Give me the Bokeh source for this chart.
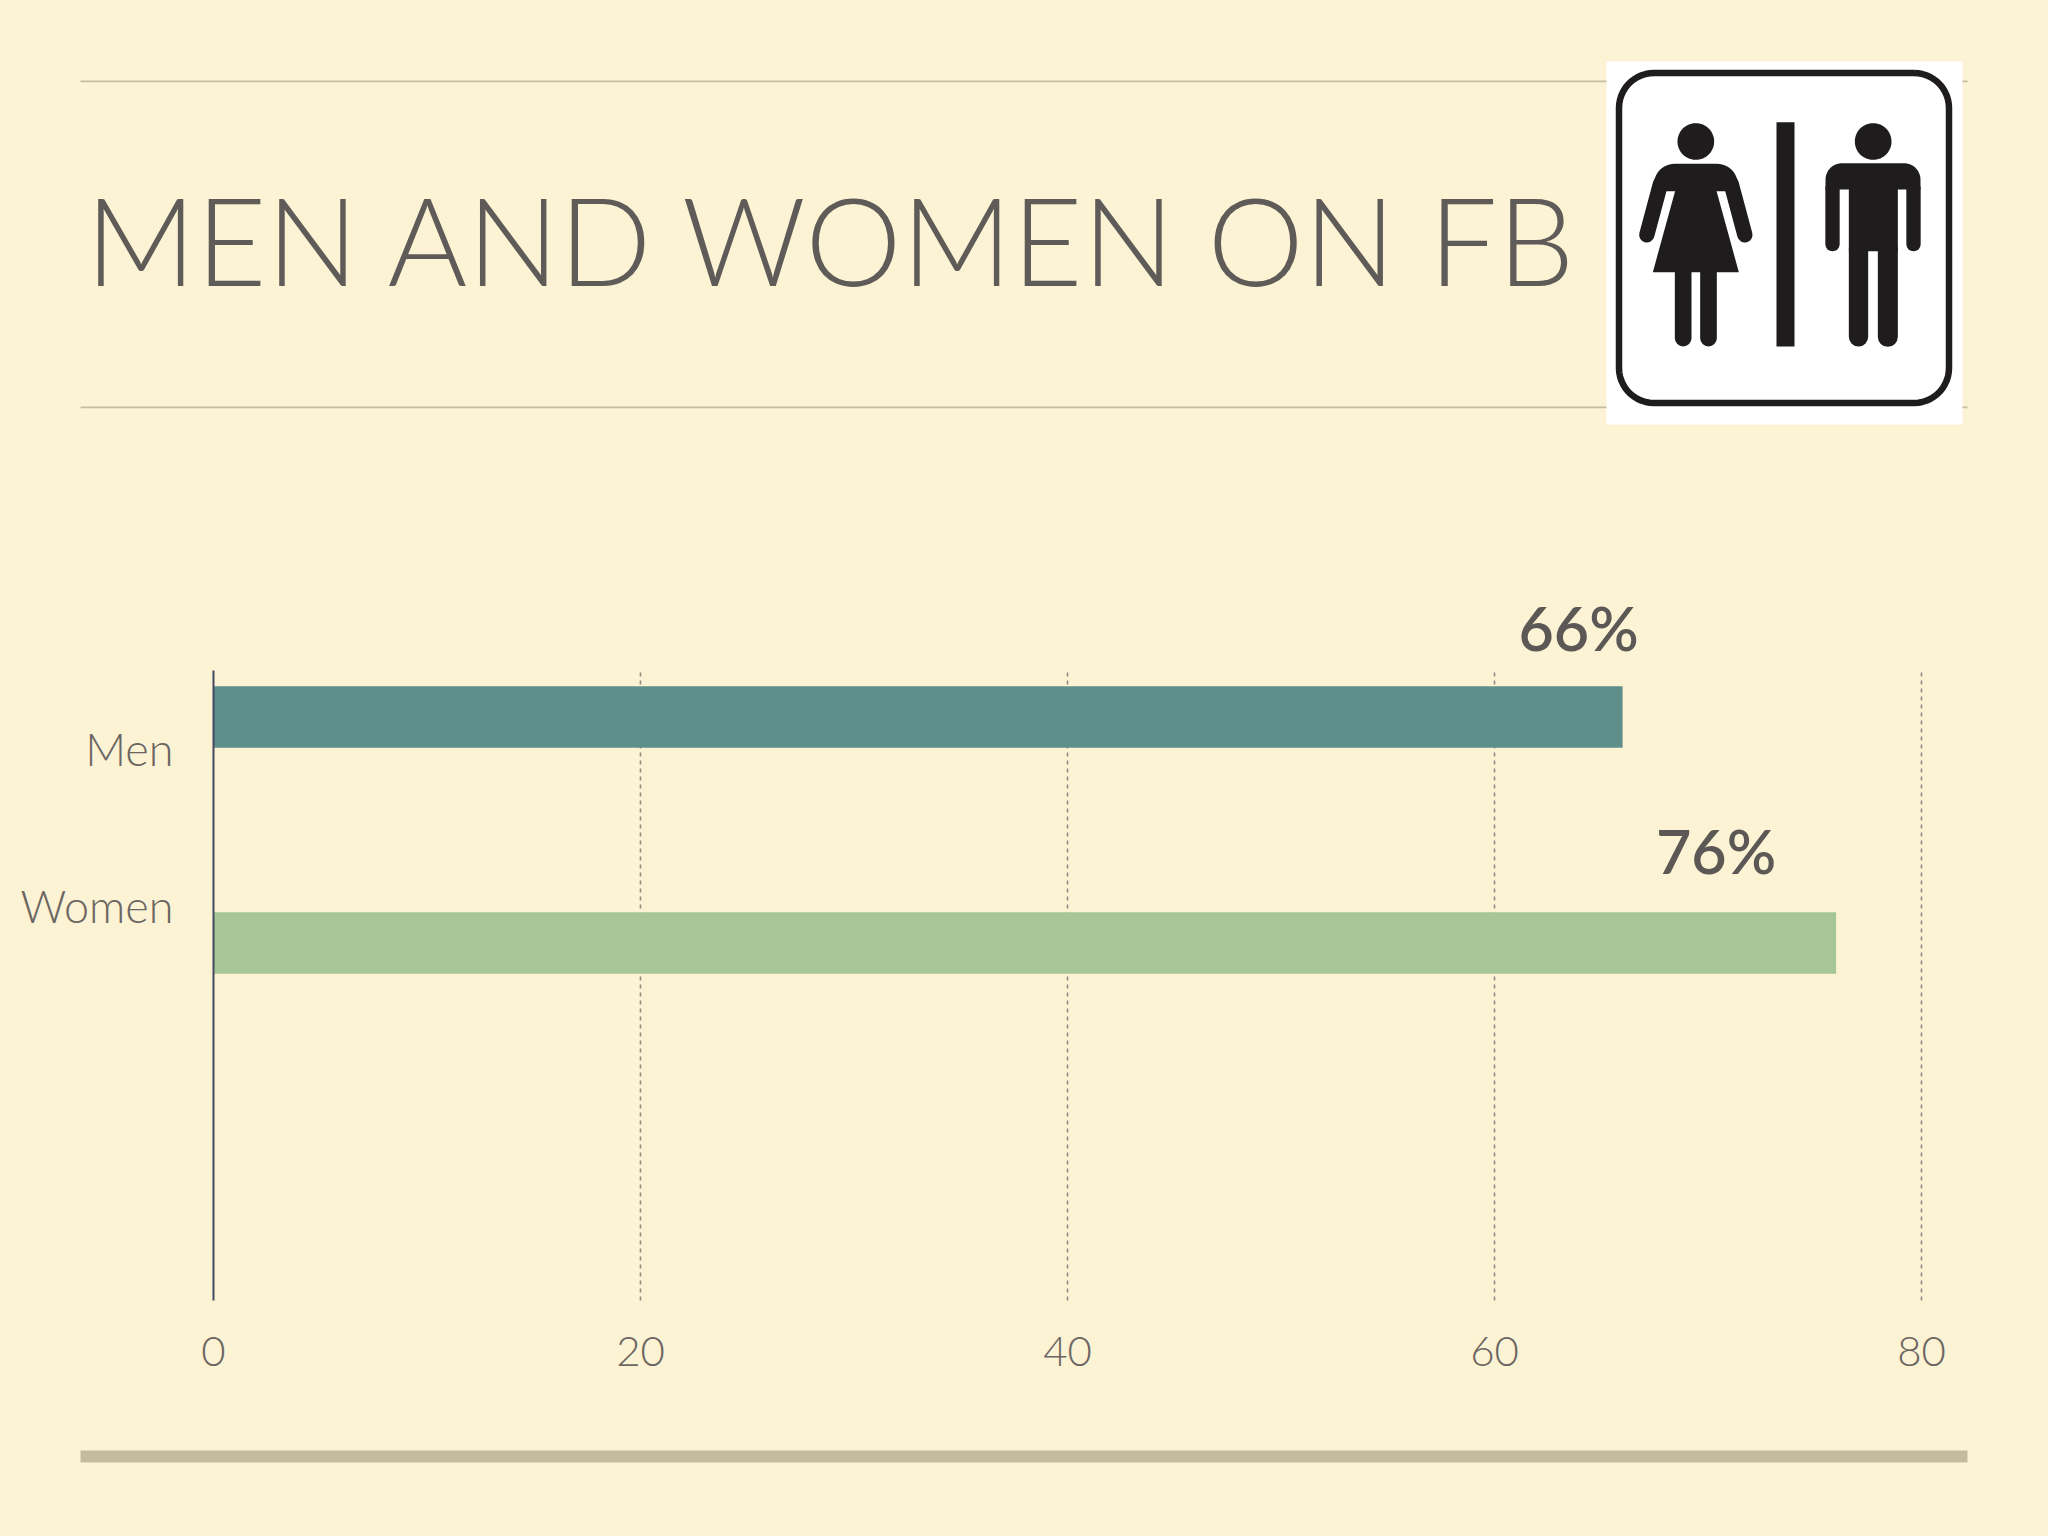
from math import pi
import numpy as np
from bokeh.core.properties import value
from bokeh.embed import file_html
from bokeh.models import ColumnDataSource, FixedTicker, GlobalInlineStyleSheet, Range1d
from bokeh.plotting import figure
from bokeh.resources import INLINE

# ---- chart data ----
categories = ["Men", "Women"]
values = [66, 76]
value_labels = ["66%", "76%"]
x_ticks = [0, 20, 40, 60, 80]
title_text = "MEN AND WOMEN ON FB"

# ---- style / layout ----
BG = "#fcf2d4"
bar_colors = ["#5f8f8b", "#a6c698"]
label_dx = [-44, -120]
label_dy = [-89.5, -92.5]
cat_tick_pos = [0.143, 0.837]

W, H = 2032, 1520
OX, OY = 0, 0
X0, XU = 213.0, 21.35
Y0, YU = 716.5, 226.0
def ypx(py):
    return (py - Y0) / YU

p = figure(
    width=W, height=H, output_backend="svg", toolbar_location=None,
    x_range=Range1d((OX - X0) / XU, (OX + W - X0) / XU),
    y_range=Range1d(ypx(OY + H), ypx(OY)),
    min_border=0, background_fill_color=BG, border_fill_color=BG, outline_line_color=None,
)
p.stylesheets = [GlobalInlineStyleSheet(css=f"html,body{{background:{BG};}}")]
p.extra_x_ranges["px"] = Range1d(OX, OX + W)
p.extra_y_ranges["py"] = Range1d(OY + H, OY)
p.grid.visible = False

axis_top, axis_bottom = ypx(670), ypx(1300)

# grid
gl = p.segment(x0=x_ticks[1:], x1=x_ticks[1:], y0=ypx(672), y1=axis_bottom,
               line_color="#928c84", line_width=1.6)
gl.glyph.line_dash = "4 4"

# bars
src = ColumnDataSource(dict(y=list(range(len(categories))), v=values, c=bar_colors,
                            t=value_labels, dx=label_dx, dy=label_dy))
p.hbar(y="y", left=0, right="v", height=61.5 / YU, fill_color="c", line_color=None, source=src)
p.text(x="v", y="y", text="t", x_offset="dx", y_offset="dy", source=src,
       text_font=value("Lato Semibold"), text_font_size="61px",
       text_color="#5c5855", text_align="center", text_baseline="alphabetic")

# axes
xa = p.xaxis[0]
xa.fixed_location = axis_bottom
xa.ticker = FixedTicker(ticks=x_ticks)
xa.axis_line_color = None
xa.major_tick_line_color = None
xa.minor_tick_line_color = None
xa.major_label_standoff = 30
xa.major_label_text_font = "Lato Light"
xa.major_label_text_font_size = "42px"
xa.major_label_text_color = "#6b6662"

ya = p.yaxis[0]
ya.fixed_location = 0
ya.bounds = (axis_top, axis_bottom)
ya.ticker = FixedTicker(ticks=cat_tick_pos)
ya.major_label_overrides = dict(zip(cat_tick_pos, categories))
ya.axis_line_color = "#434861"
ya.axis_line_width = 2
ya.major_tick_line_color = None
ya.minor_tick_line_color = None
ya.major_label_standoff = 34
ya.major_label_text_font = "Lato Light"
ya.major_label_text_font_size = "45px"
ya.major_label_text_color = "#6b6662"

# ---- slide furniture, in page pixels ----
PX = dict(x_range_name="px", y_range_name="py")
p.quad(left=80, right=1967, top=80, bottom=81.7, fill_color="#c4bda2", line_color=None, **PX)
p.quad(left=80, right=1967, top=406, bottom=407.7, fill_color="#c4bda2", line_color=None, **PX)
p.quad(left=80, right=1967, top=1450, bottom=1462, fill_color="#c4bb9c", line_color=None, **PX)
p.text(x=[85], y=[238], text=[title_text], text_font=value("Lato Light"), text_font_size="121.7px",
       text_color="#5f5b58", text_align="left", text_baseline="alphabetic", **PX)

# icon (sketch coordinates are relative to the sign box)
def ix(v): return 1550 + np.asarray(v, float) / 3
def iy(v): return 40 + np.asarray(v, float) / 3
INK = "#1f1c1d"

def arc(cx, cy, r, a0, a1, n=14):
    t = np.radians(np.linspace(a0, a1, n))
    return list(cx + r * np.cos(t)), list(cy + r * np.sin(t))

def rounded(x0, x1, y0, y1, r):
    xs, ys = [], []
    for cx, cy, a in [(x1 - r, y0 + r, -90), (x1 - r, y1 - r, 0), (x0 + r, y1 - r, 90), (x0 + r, y0 + r, 180)]:
        ax, ay = arc(cx, cy, r, a, a + 90)
        xs += ax
        ys += ay
    return xs + xs[:1], ys + ys[:1]

p.quad(left=1606, right=1962, top=61, bottom=424, fill_color="white", line_color=None, **PX)
bx, by = rounded(1618.5, 1948.5, 72.5, 402.5, 35)
p.line(bx, by, line_color=INK, line_width=6.5, **PX)

def blob(xs, ys):
    p.patch(list(ix(xs)), list(iy(ys)), fill_color=INK, line_color=None, **PX)

def limb(x0, y0, x1, y1, w):
    p.line(list(ix([x0, x1])), list(iy([y0, y1])), line_color=INK, line_width=w / 3,
           line_cap="round", **PX)

def head(cx, cy, r):
    blob(*arc(cx, cy, r, 0, 360, 60))

def shoulders(x0, x1, top, bottom, r, inset=0):
    lx, ly = arc(x0 + r + inset, top + r, r, 180, 270)
    rx, ry = arc(x1 - r - inset, top + r, r, 270, 360)
    blob([x0] + lx + rx + [x1], [bottom] + ly + ry + [bottom])

# woman
head(436, 303, 55)
shoulders(306, 566, 370, 452, 62, inset=4)
blob([377, 495, 565, 307], [440, 440, 695, 695])
limb(330, 430, 289, 583, 46)
limb(542, 430, 583, 583, 46)
limb(398, 690, 398, 893, 50)
limb(474, 690, 474, 893, 50)

# divider
blob([678, 732, 732, 678], [245, 245, 918, 918])

# man
head(968, 303, 55)
shoulders(825, 1110, 368, 447, 50)
blob([895, 1042, 1042, 895], [440, 440, 632, 632])
limb(846, 443, 846, 611, 43)
limb(1089, 443, 1089, 611, 43)
limb(924, 625, 924, 889, 58)
limb(1012, 625, 1012, 889, 60)

open("out.html", "w").write(file_html(p, INLINE))
